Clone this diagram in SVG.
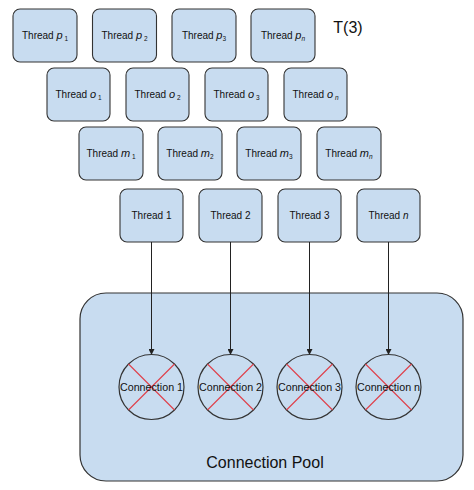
<svg xmlns="http://www.w3.org/2000/svg" width="474" height="490" viewBox="0 0 474 490">
<style>
.box{fill:#c8dcf0;stroke:#333;stroke-width:1.1}
.pool{fill:#c8dcf0;stroke:#333;stroke-width:1.2}
.conn{fill:none;stroke:#333;stroke-width:1.2}
.x{stroke:#e03c46;stroke-width:1.1}
.lbl{font-family:"Liberation Sans",Arial,sans-serif;font-size:10px;fill:#111;text-anchor:middle}
.it{font-style:italic;font-size:11px}
.sub{font-size:6.5px}
.clbl{font-family:"Liberation Sans",Arial,sans-serif;font-size:10.7px;fill:#111;text-anchor:middle}
.big{font-family:"Liberation Sans",Arial,sans-serif;font-size:16px;fill:#111;text-anchor:middle}
.edge{stroke:#222;stroke-width:1;fill:none}
</style>
<defs>
<marker id="arr" markerWidth="6" markerHeight="6" refX="5" refY="3" orient="auto" markerUnits="userSpaceOnUse">
<path d="M0,0 L6,3 L0,6 z" fill="#222"/>
</marker>
</defs>
<g id="pool">
<rect class="pool" x="80" y="293" width="383" height="188" rx="26"/>
<text class="big" x="265" y="468">Connection Pool</text>
</g>
<g id="t3"><text class="big" x="348" y="33" font-size="15">T(3)</text></g>
<g id="p1"><rect class="box" x="13" y="9" width="64" height="53" rx="7"/><text class="lbl" x="45" y="39">Thread <tspan class="it">p</tspan><tspan class="sub" dy="2"> 1</tspan></text></g>
<g id="p2"><rect class="box" x="92.5" y="9" width="64" height="53" rx="7"/><text class="lbl" x="124.5" y="39">Thread <tspan class="it">p</tspan><tspan class="sub" dy="2"> 2</tspan></text></g>
<g id="p3"><rect class="box" x="172" y="9" width="64" height="53" rx="7"/><text class="lbl" x="204" y="39">Thread <tspan class="it">p</tspan><tspan class="sub" dy="2">3</tspan></text></g>
<g id="pn"><rect class="box" x="251" y="9" width="64" height="53" rx="7"/><text class="lbl" x="283" y="39">Thread <tspan class="it">p</tspan><tspan class="sub it" dy="2" font-size="6.5">n</tspan></text></g>
<g id="o1"><rect class="box" x="47" y="68" width="63" height="53" rx="7"/><text class="lbl" x="78.5" y="98">Thread <tspan class="it">o</tspan><tspan class="sub" dy="2"> 1</tspan></text></g>
<g id="o2"><rect class="box" x="126" y="68" width="63" height="53" rx="7"/><text class="lbl" x="157.5" y="98">Thread <tspan class="it">o</tspan><tspan class="sub" dy="2"> 2</tspan></text></g>
<g id="o3"><rect class="box" x="205" y="68" width="63" height="53" rx="7"/><text class="lbl" x="236.5" y="98">Thread <tspan class="it">o</tspan><tspan class="sub" dy="2"> 3</tspan></text></g>
<g id="on"><rect class="box" x="284" y="68" width="63" height="53" rx="7"/><text class="lbl" x="315.5" y="98">Thread <tspan class="it">o</tspan><tspan class="sub it" dy="2" font-size="6.5"> n</tspan></text></g>
<g id="m1"><rect class="box" x="79" y="127" width="64" height="53" rx="7"/><text class="lbl" x="111" y="157">Thread <tspan class="it">m</tspan><tspan class="sub" dy="2"> 1</tspan></text></g>
<g id="m2"><rect class="box" x="158" y="127" width="64" height="53" rx="7"/><text class="lbl" x="190" y="157">Thread <tspan class="it">m</tspan><tspan class="sub" dy="2">2</tspan></text></g>
<g id="m3"><rect class="box" x="237" y="127" width="64" height="53" rx="7"/><text class="lbl" x="269" y="157">Thread <tspan class="it">m</tspan><tspan class="sub" dy="2">3</tspan></text></g>
<g id="mn"><rect class="box" x="317" y="127" width="64" height="53" rx="7"/><text class="lbl" x="349" y="157">Thread <tspan class="it">m</tspan><tspan class="sub it" dy="2" font-size="6.5">n</tspan></text></g>
<g id="t1"><rect class="box" x="120" y="189" width="63" height="53" rx="7"/><text class="lbl" x="151.5" y="219">Thread 1</text></g>
<g id="t2"><rect class="box" x="199" y="189" width="63" height="53" rx="7"/><text class="lbl" x="230.5" y="219">Thread 2</text></g>
<g id="t3n"><rect class="box" x="278" y="189" width="63" height="53" rx="7"/><text class="lbl" x="309.5" y="219">Thread 3</text></g>
<g id="tn"><rect class="box" x="357" y="189" width="63" height="53" rx="7"/><text class="lbl" x="388.5" y="219">Thread <tspan font-style="italic">n</tspan></text></g>
<g id="connectors">
<line class="edge" x1="151.5" y1="242" x2="151.5" y2="354" marker-end="url(#arr)"/>
<line class="edge" x1="230.5" y1="242" x2="230.5" y2="354" marker-end="url(#arr)"/>
<line class="edge" x1="309.5" y1="242" x2="309.5" y2="354" marker-end="url(#arr)"/>
<line class="edge" x1="388.5" y1="242" x2="388.5" y2="354" marker-end="url(#arr)"/>
</g>
<g id="c1"><circle class="conn" cx="151.5" cy="387" r="32.5"/><line class="x" x1="128.5" y1="364" x2="174.5" y2="410"/><line class="x" x1="174.5" y1="364" x2="128.5" y2="410"/><text class="clbl" x="151.5" y="391">Connection 1</text></g>
<g id="c2"><circle class="conn" cx="230.5" cy="387" r="32.5"/><line class="x" x1="207.5" y1="364" x2="253.5" y2="410"/><line class="x" x1="253.5" y1="364" x2="207.5" y2="410"/><text class="clbl" x="230.5" y="391">Connection 2</text></g>
<g id="c3"><circle class="conn" cx="309.5" cy="387" r="32.5"/><line class="x" x1="286.5" y1="364" x2="332.5" y2="410"/><line class="x" x1="332.5" y1="364" x2="286.5" y2="410"/><text class="clbl" x="309.5" y="391">Connection 3</text></g>
<g id="cn"><circle class="conn" cx="388.5" cy="387" r="32.5"/><line class="x" x1="365.5" y1="364" x2="411.5" y2="410"/><line class="x" x1="411.5" y1="364" x2="365.5" y2="410"/><text class="clbl" x="388.5" y="391">Connection n</text></g>
</svg>
